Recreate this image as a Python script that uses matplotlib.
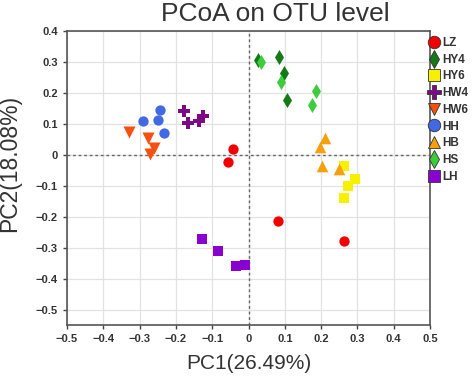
import matplotlib
matplotlib.use("Agg")
import matplotlib.pyplot as plt
from matplotlib.lines import Line2D

# PCoA coordinates (PC1, PC2) per group
groups = ["LZ", "HY4", "HY6", "HW4", "HW6", "HH", "HB", "HS", "LH"]
lz_x = [-0.044, -0.056, 0.080, 0.262]
lz_y = [0.020, -0.024, -0.212, -0.277]
hy4_x = [0.026, 0.083, 0.098, 0.107]
hy4_y = [0.306, 0.315, 0.266, 0.177]
hy6_x = [0.263, 0.293, 0.274, 0.263]
hy6_y = [-0.034, -0.076, -0.099, -0.137]
hw4_x = [-0.177, -0.166, -0.136, -0.126]
hw4_y = [0.142, 0.104, 0.110, 0.126]
hw6_x = [-0.329, -0.276, -0.260, -0.271]
hw6_y = [0.075, 0.054, 0.024, 0.005]
hh_x = [-0.244, -0.291, -0.249, -0.232]
hh_y = [0.145, 0.111, 0.113, 0.071]
hb_x = [0.211, 0.196, 0.203, 0.249]
hb_y = [0.054, 0.025, -0.035, -0.044]
hs_x = [0.034, 0.089, 0.186, 0.175]
hs_y = [0.299, 0.237, 0.208, 0.162]
lh_x = [-0.129, -0.083, -0.035, -0.009]
lh_y = [-0.271, -0.310, -0.357, -0.353]

xs = [lz_x, hy4_x, hy6_x, hw4_x, hw6_x, hh_x, hb_x, hs_x, lh_x]
ys = [lz_y, hy4_y, hy6_y, hw4_y, hw6_y, hh_y, hb_y, hs_y, lh_y]
colors = ["#f20000", "#157a15", "#f7f000", "#7d0a84", "#f4500f",
          "#4169e1", "#f5a00f", "#3ccc3c", "#8a00d0"]
markers = ["o", "D", "s", "P", "v", "o", "^", "D", "s"]
sizes = [55, 45, 50, 75, 75, 55, 70, 45, 50]

plt.rcParams["font.family"] = ["Liberation Sans", "DejaVu Sans"]

fig = plt.figure(figsize=(4.74, 3.77), dpi=100)
ax = fig.add_axes([67 / 474, 52 / 377, 363 / 474, 294 / 377])

for gx, gy, c, m, s in zip(xs, ys, colors, markers, sizes):
    if m == "D":
        ax.scatter(gx, gy, c=c, marker="d", s=s * 1.3, linewidths=0, zorder=3)
    else:
        ax.scatter(gx, gy, c=c, marker=m, s=s, linewidths=0, zorder=3)

ax.axhline(0, color="#666666", linestyle=(0, (2, 2)), linewidth=1, zorder=2)
ax.axvline(0, color="#666666", linestyle=(0, (2, 2)), linewidth=1, zorder=2)

ax.set_xlim(-0.5, 0.5)
ax.set_ylim(-0.548, 0.4)
xt = [round(-0.5 + 0.1 * i, 1) for i in range(11)]
yt = [round(-0.5 + 0.1 * i, 1) for i in range(10)]
ax.set_xticks(xt)
ax.set_yticks(yt)
ax.set_xticklabels(["0" if t == 0 else f"{t:g}".replace("-", "\u2212") for t in xt])
ax.set_yticklabels(["0" if t == 0 else f"{t:g}".replace("-", "\u2212") for t in yt])
ax.tick_params(labelsize=8, length=3, width=1, color="#444444", labelcolor="#333333")
for lab in ax.get_xticklabels() + ax.get_yticklabels():
    lab.set_fontweight("bold")
ax.grid(True, color="#e2e2e2", linewidth=0.9)
ax.set_axisbelow(True)
for sp in ax.spines.values():
    sp.set_color("#555555")
    sp.set_linewidth(1.2)

ax.set_xlabel("PC1(26.49%)", fontsize=15, color="#333333", labelpad=7)
fig.text(10 / 474, 1 - 163 / 377, "PC2(18.08%)", fontsize=16.5, color="#333333",
         rotation=90, ha="center", va="center")
fig.text(275 / 474, 1 - 21 / 377, "PCoA on OTU level", fontsize=19, color="#333333",
         ha="center", va="baseline")

handles = []
for g, c, m in zip(groups, colors, markers):
    mk = "d" if m == "D" else m
    handles.append(Line2D([], [], linestyle="none", marker=mk, markersize=9 if m != "P" else 10,
                          markerfacecolor=c, markeredgecolor="#333333",
                          markeredgewidth=0.6, label=g))
leg = fig.legend(handles=handles, loc="upper left", bbox_to_anchor=(429 / 474, 1 - 37 / 377),
                 frameon=False, fontsize=8.5, handlelength=0.9, handletextpad=0.25,
                 labelspacing=0.4, borderaxespad=0, borderpad=0)
for t in leg.get_texts():
    t.set_fontweight("bold")
    t.set_color("#333333")

fig.savefig("out.png", dpi=100)
